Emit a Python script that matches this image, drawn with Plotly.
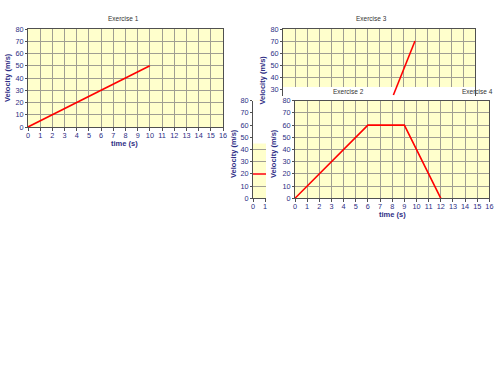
import plotly.graph_objects as go

# ---------------- data ----------------
ex1_time = [0, 10]
ex1_vel = [0, 50]

ex2_time = [0, 6, 9, 12]
ex2_vel = [0, 60, 60, 0]

ex3_time = [9.2, 11]
ex3_vel = [25, 70]

ex4_time = [0, 2]
ex4_vel = [20, 20]

titles = ["Exercise 1", "Exercise 2", "Exercise 3", "Exercise 4"]
x_title = "time (s)"
y_title = "Velocity (m/s)"

# ---------------- style ----------------
W, H = 500, 386
NAVY = "#2e2e85"
RED = "#ff0000"
GRID = "#a09e92"
AXLINE = "#505050"
FONT = "Liberation Sans"
TICKFONT = dict(family=FONT, size=7.3, color=NAVY)
TITLEFONT = dict(family=FONT, size=7.5, color=NAVY, weight="bold")


def px(x):
    return x / W


def py(y):
    return 1 - y / H


fig = go.Figure()

line_style = dict(color=RED, width=1.6)
fig.add_trace(go.Scatter(x=ex1_time, y=ex1_vel, mode="lines", line=line_style, xaxis="x", yaxis="y"))
fig.add_trace(go.Scatter(x=ex3_time, y=ex3_vel, mode="lines", line=line_style, xaxis="x2", yaxis="y2"))
fig.add_trace(go.Scatter(x=ex4_time, y=ex4_vel, mode="lines", line=dict(color="#ff4040", width=2), xaxis="x3", yaxis="y3"))
fig.add_trace(go.Scatter(x=ex2_time, y=ex2_vel, mode="lines", line=line_style, xaxis="x4", yaxis="y4"))

common = dict(showgrid=True, gridcolor=GRID, gridwidth=1, zeroline=False,
              tickfont=TICKFONT, ticks="outside", tickcolor=AXLINE,
              linecolor=AXLINE, linewidth=1)
xcommon = dict(common, ticklen=3, ticklabelstandoff=-2)
ycommon = dict(common, ticklen=2, ticklabelstandoff=0)

Y3_MIN = 80 - 67 / 1.2
X3_MAX = 1.07

layout = dict(
    template="none",
    width=W, height=H, showlegend=False,
    margin=dict(l=0, r=0, t=0, b=0),
    paper_bgcolor="white", plot_bgcolor="#ffffcc",
    # chart 1 (Exercise 1)
    xaxis=dict(domain=[px(28), px(223)], range=[0, 16], dtick=1, anchor="y",
               showline=True, mirror=True, **xcommon),
    yaxis=dict(domain=[py(127), py(29)], range=[0, 80], dtick=10, anchor="x",
               showline=True, mirror=True, **ycommon),
    # chart 3 (Exercise 3), lower part hidden
    xaxis2=dict(domain=[px(283), px(475)], range=[0, 16], dtick=1, anchor="y2",
                side="top", showline=True, showticklabels=False,
                **{**xcommon, "ticks": ""}),
    yaxis2=dict(domain=[py(96), py(29)], range=[Y3_MIN, 80], dtick=10, anchor="x2",
                showline=True, mirror=True, **ycommon),
    # narrow partly hidden chart
    xaxis3=dict(domain=[px(253), px(266)], range=[0, X3_MAX], dtick=1, anchor="y3",
                showline=True, **xcommon),
    yaxis3=dict(domain=[py(198.3), py(100.7)], range=[0, 80], dtick=10, anchor="x3",
                showline=True, **ycommon),
    # chart 2 (Exercise 2)
    xaxis4=dict(domain=[px(295), px(489.4)], range=[0, 16], dtick=1, anchor="y4",
                showline=True, mirror=True, **xcommon),
    yaxis4=dict(domain=[py(198.3), py(100.7)], range=[0, 80], dtick=10, anchor="x4",
                showline=True, mirror=True, **ycommon),
)
fig.update_layout(**layout)

# white covers (beneath traces, above grid)
fig.add_shape(type="rect", xref="x2", yref="y2", x0=0, x1=16, y0=Y3_MIN, y1=31.7,
              fillcolor="white", line=dict(width=0), layer="between")
fig.add_shape(type="rect", xref="x3", yref="y3", x0=0, x1=X3_MAX, y0=45, y1=80,
              fillcolor="white", line=dict(width=0), layer="between")

ann = []


def text(x, y, s, font, angle=0):
    ann.append(dict(x=px(x), y=py(y), xref="paper", yref="paper", text=s, showarrow=False,
                    xanchor="center", yanchor="middle", font=font, textangle=angle))


small = dict(family=FONT, size=6.5, color="#333333")
text(123, 19, titles[0], small)
text(371, 19, titles[2], small)
text(348, 92, titles[1], small)
text(477, 92, titles[3], small)

text(124, 143.5, x_title, TITLEFONT)
text(392, 214.5, x_title, TITLEFONT)

text(7, 78, y_title, TITLEFONT, -90)
text(262, 80.5, y_title, TITLEFONT, -90)
text(233, 154, y_title, TITLEFONT, -90)
text(273, 154, y_title, TITLEFONT, -90)

fig.update_layout(annotations=ann)

fig.write_html("out.html", config={"displayModeBar": False},
               post_script="document.body.style.margin='0px';")
